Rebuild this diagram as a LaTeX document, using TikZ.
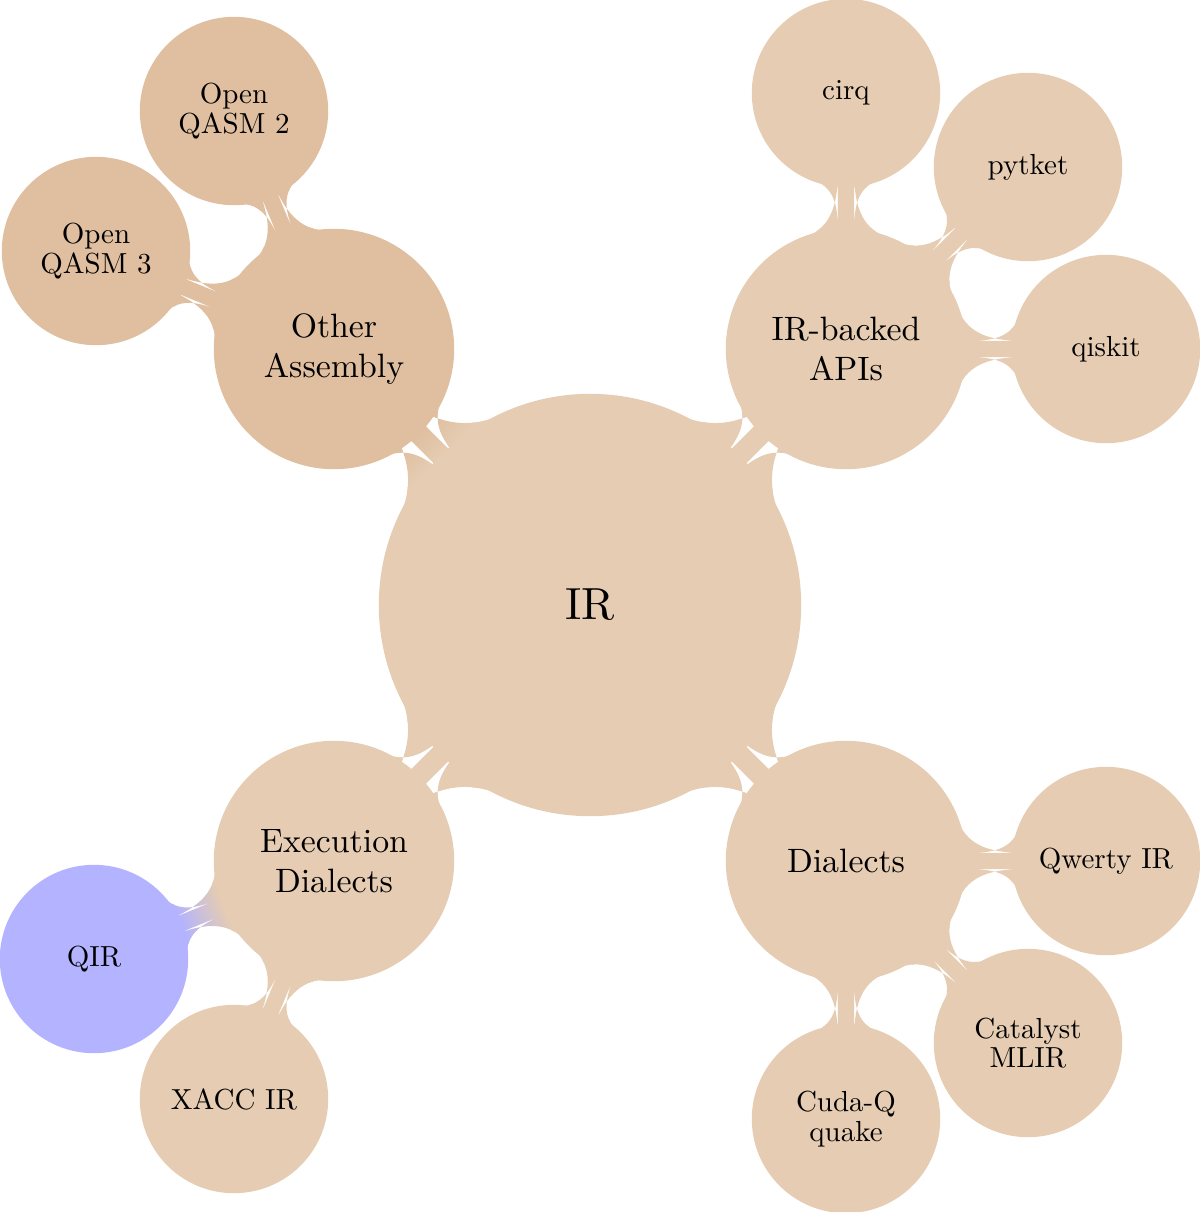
\documentclass[tikz,border=0pt]{standalone}
\usepackage{fontspec}
\setmainfont{lmroman10-regular}[Extension=.otf]
\usetikzlibrary{mindmap,backgrounds}
\definecolor{cA}{RGB}{229,204,178}
\definecolor{cB}{RGB}{223,191,159}
\definecolor{cQ}{RGB}{179,179,255}
\tikzset{
  rootc/.style={concept, concept color=cA, minimum size=210pt, text width=140pt, inner sep=1pt, align=center, font=\fontsize{22.5}{26}\selectfont},
  lonec/.style={concept, minimum size=119pt, text width=82pt, inner sep=1pt, align=center, font=\fontsize{16.9}{20}\selectfont},
  ltwoc/.style={concept, minimum size=93pt, text width=72pt, inner sep=1pt, align=center, font=\fontsize{14.5}{14.8}\selectfont},
  bar/.style 2 args={circle connection bar switch color=from (#1) to (#2)}
}
\begin{document}
\begin{tikzpicture}[mindmap, x=0.5pt, y=-0.5pt]
\useasboundingbox (0,0) rectangle (1200,1212);
% root
\node[rootc] (ir) at (590,605) {IR};
% level 1
\node[lonec, concept color=cB] (oa) at (334,349) {Other\\Assembly};
\node[lonec, concept color=cA] (api) at (846,349) {IR-backed\\APIs};
\node[lonec, concept color=cA] (ex) at (334,861) {Execution\\Dialects};
\node[lonec, concept color=cA] (di) at (846,861) {Dialects};
% level 2
\node[ltwoc, concept color=cB] (q2) at (234,111) {Open\\QASM 2};
\node[ltwoc, concept color=cB] (q3) at (96,251) {Open\\QASM 3};
\node[ltwoc, concept color=cA] (cirq) at (846,93) {cirq};
\node[ltwoc, concept color=cA] (pytket) at (1028,167) {pytket};
\node[ltwoc, concept color=cA] (qiskit) at (1106,349) {qiskit};
\node[ltwoc, concept color=cQ] (qir) at (94,959) {QIR};
\node[ltwoc, concept color=cA] (xacc) at (234,1099) {XACC IR};
\node[ltwoc, concept color=cA] (qwerty) at (1106,861) {Qwerty IR};
\node[ltwoc, concept color=cA] (cat) at (1028,1043) {Catalyst\\MLIR};
\node[ltwoc, concept color=cA] (cuda) at (846,1119) {Cuda-Q\\quake};
% connections
\begin{scope}[on background layer]
\path (ir) to[bar={cA}{cB}] (oa);
\path (ir) to[bar={cA}{cA}] (api);
\path (ir) to[bar={cA}{cA}] (ex);
\path (ir) to[bar={cA}{cA}] (di);
\path (oa) to[bar={cB}{cB}] (q2);
\path (oa) to[bar={cB}{cB}] (q3);
\path (api) to[bar={cA}{cA}] (cirq);
\path (api) to[bar={cA}{cA}] (pytket);
\path (api) to[bar={cA}{cA}] (qiskit);
\path (ex) to[bar={cA}{cQ}] (qir);
\path (ex) to[bar={cA}{cA}] (xacc);
\path (di) to[bar={cA}{cA}] (qwerty);
\path (di) to[bar={cA}{cA}] (cat);
\path (di) to[bar={cA}{cA}] (cuda);
\end{scope}
\end{tikzpicture}
\end{document}
